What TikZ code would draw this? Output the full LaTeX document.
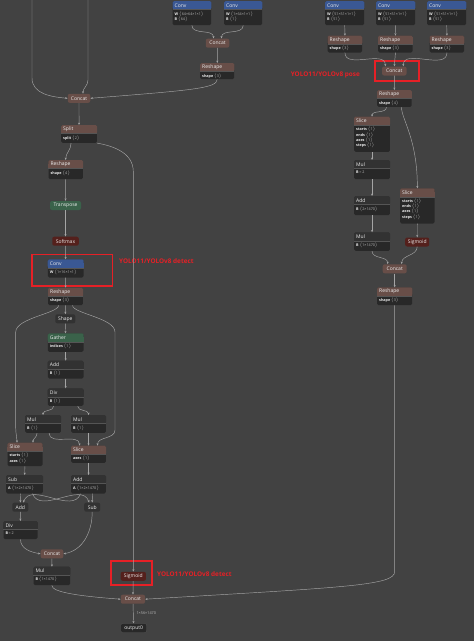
\documentclass[tikz,border=0pt]{standalone}
\usepackage{fontspec}
\setmainfont{Open Sans}
\usetikzlibrary{arrows.meta}

\definecolor{bgc}{RGB}{66,66,66}
\definecolor{bodyc}{RGB}{40,40,40}
\definecolor{plainc}{RGB}{50,50,50}
\definecolor{sepc}{RGB}{85,85,85}
\definecolor{layerc}{RGB}{58,88,148}
\definecolor{shapec}{RGB}{104,78,72}
\definecolor{actc}{RGB}{84,32,28}
\definecolor{transc}{RGB}{58,98,74}
\definecolor{edgec}{RGB}{165,165,165}
\definecolor{hlc}{RGB}{230,32,38}
\definecolor{txtc}{RGB}{236,236,236}
\definecolor{valc}{RGB}{185,185,185}

\newcommand\tv[1]{$\langle$#1$\rangle$}
\newcommand\kv[2]{\textbf{#1}\,\textcolor{valc}{#2}}
% operator box: name, x0, y0, x1, y1, header colour, title, attributes
\newcommand{\opnode}[8]{%
  \node[opbody, anchor=north west, minimum width={#4-#2}, minimum height={#5-#3}] (#1) at (#2,#3) {};
  \fill[#6, rounded corners=1.5pt] (#1.north west) rectangle ([yshift=-8.5pt]#1.north east);
  \fill[#6] ([yshift=-4pt]#1.north west) rectangle ([yshift=-8.5pt]#1.north east);
  \draw[sepc, line width=0.3pt] ([yshift=-8.5pt]#1.north west) -- ([yshift=-8.5pt]#1.north east);
  \node[optitle, anchor=west] (#1-t) at ([xshift=2pt,yshift=-4.3pt]#1.north west) {#7};
  \node[opattr, anchor=north west] (#1-a) at ([xshift=2pt,yshift=-10.2pt]#1.north west) {#8};
}

\begin{document}
\begin{tikzpicture}[x=1pt,y=-1pt]
    \tikzset{opbody/.style={fill=bodyc, rounded corners=1.5pt, inner sep=0pt, draw=none},
        optitle/.style={inner sep=0pt, text=txtc, font=\fontsize{5}{6}\selectfont},
        opattr/.style={inner sep=0pt, text=txtc, align=left, font=\fontsize{3.7}{5.2}\selectfont},
        pill/.style={fill=#1, rounded corners=2pt, minimum height=9pt, inner sep=0pt,
            text=txtc, font=\fontsize{5}{6}\selectfont},
        link/.style={draw=edgec, line width=0.45pt, -{Stealth[length=2.4pt,width=2pt]}},
        lbl/.style={inner sep=0pt, text=valc, font=\fontsize{3.8}{4.5}\selectfont},
        hlbox/.style={draw=hlc, line width=1.6pt, inner sep=0pt},
        hltext/.style={inner sep=0pt, text=hlc, font=\fontsize{6.4}{7}\selectfont\bfseries}}
    \fill[bgc] (0,0) rectangle (474,641);
    \useasboundingbox (0,0) rectangle (474,641);

    % detect head, top
    \opnode{convA}{172.5}{1}{211}{25}{layerc}{Conv}{\kv{W}{\tv{64×64×1×1}}\\\kv{B}{\tv{64}}}
    \opnode{convB}{224}{1}{262}{25}{layerc}{Conv}{\kv{W}{\tv{1×64×1×1}}\\\kv{B}{\tv{1}}}
    \node[pill=shapec, minimum width=23.5] (concatT) at (217.5,43.2) {Concat};
    \opnode{reshapeT}{200}{63}{234}{79}{shapec}{Reshape}{\kv{shape}{\tv{3}}}

    % pose head
    \opnode{convP1}{325}{1}{364}{25}{layerc}{Conv}{\kv{W}{\tv{51×51×1×1}}\\\kv{B}{\tv{51}}}
    \opnode{convP2}{376}{1}{415}{25}{layerc}{Conv}{\kv{W}{\tv{51×51×1×1}}\\\kv{B}{\tv{51}}}
    \opnode{convP3}{427}{1}{466}{25}{layerc}{Conv}{\kv{W}{\tv{51×51×1×1}}\\\kv{B}{\tv{51}}}
    \opnode{reshP1}{327.5}{35.7}{362}{52.3}{shapec}{Reshape}{\kv{shape}{\tv{3}}}
    \opnode{reshP2}{378}{35.7}{412.5}{52.3}{shapec}{Reshape}{\kv{shape}{\tv{3}}}
    \opnode{reshP3}{429.5}{35.7}{464}{52.3}{shapec}{Reshape}{\kv{shape}{\tv{3}}}
    \node[pill=shapec, minimum width=24.5] (concatP) at (394.3,71) {Concat};
    \opnode{reshP4}{377}{90}{411.5}{106.7}{shapec}{Reshape}{\kv{shape}{\tv{4}}}
    \opnode{sliceP1}{354}{116.7}{389.7}{151.7}{shapec}{Slice}{\kv{starts}{\tv{1}}\\\kv{ends}{\tv{1}}\\\kv{axes}{\tv{1}}\\\kv{steps}{\tv{1}}}
    \opnode{mulP1}{354}{160}{389.7}{179}{plainc}{Mul}{\kv{B}{= 2}}
    \opnode{addP}{354}{196}{389.7}{215}{plainc}{Add}{\kv{B}{\tv{2×1470}}}
    \opnode{mulP2}{354}{232.3}{389.7}{250.7}{plainc}{Mul}{\kv{B}{\tv{1×1470}}}
    \opnode{sliceP2}{400}{188.3}{434.3}{223.3}{shapec}{Slice}{\kv{starts}{\tv{1}}\\\kv{ends}{\tv{1}}\\\kv{axes}{\tv{1}}\\\kv{steps}{\tv{1}}}
    \node[pill=actc, minimum width=24] (sigP) at (417.2,242) {Sigmoid};
    \node[pill=shapec, minimum width=24] (concatP2) at (394.7,268.8) {Concat};
    \opnode{reshP5}{377}{287.3}{412}{305}{shapec}{Reshape}{\kv{shape}{\tv{3}}}

    % detect head, decoding
    \node[pill=shapec, minimum width=22.5] (concatL) at (79,98.3) {Concat};
    \opnode{split}{61}{125}{96.7}{142.7}{shapec}{Split}{\kv{split}{\tv{2}}}
    \opnode{reshL}{48.3}{160}{82.7}{179}{shapec}{Reshape}{\kv{shape}{\tv{4}}}
    \node[pill=transc, minimum width=31] (transp) at (65.5,205.5) {Transpose};
    \node[pill=actc, minimum width=26.5] (softm) at (65.5,241.2) {Softmax};
    \opnode{convD}{47.7}{259.3}{83.3}{277.3}{layerc}{Conv}{\kv{W}{\tv{1×16×1×1}}}
    \opnode{reshD}{48}{287.7}{82.7}{305}{shapec}{Reshape}{\kv{shape}{\tv{3}}}
    \node[pill=plainc, minimum width=20] (shapeN) at (65.3,318.8) {Shape};
    \opnode{gather}{47.7}{333.3}{83.3}{351.7}{transc}{Gather}{\kv{indices}{\tv{1}}}
    \opnode{addD1}{47.7}{360.7}{83.3}{378.3}{plainc}{Add}{\kv{B}{\tv{1}}}
    \opnode{divD1}{47.7}{388.3}{83.3}{405.7}{plainc}{Div}{\kv{B}{\tv{1}}}
    \opnode{mulD1}{25}{415}{60.7}{432.7}{plainc}{Mul}{\kv{B}{\tv{1}}}
    \opnode{mulD2}{71}{415}{105.7}{432.7}{plainc}{Mul}{\kv{B}{\tv{1}}}
    \opnode{sliceD1}{7.3}{442.7}{42.3}{466}{shapec}{Slice}{\kv{starts}{\tv{1}}\\\kv{axes}{\tv{1}}}
    \opnode{sliceD2}{71}{445.7}{105.7}{462.7}{shapec}{Slice}{\kv{axes}{\tv{1}}}
    \opnode{subD}{6}{475}{42.7}{493.3}{plainc}{Sub}{\kv{A}{\tv{1×2×1470}}}
    \opnode{addD2}{71}{475}{105.7}{493.3}{plainc}{Add}{\kv{A}{\tv{1×2×1470}}}
    \node[pill=plainc, minimum width=16] (addD3) at (20.3,507.2) {Add};
    \node[pill=plainc, minimum width=16] (subD2) at (92.2,507.2) {Sub};
    \opnode{divD2}{3.3}{521}{37.3}{539}{plainc}{Div}{\kv{B}{= 2}}
    \node[pill=shapec, minimum width=22.6] (concatD) at (52,553.8) {Concat};
    \opnode{mulD3}{33.3}{566.7}{70}{585}{plainc}{Mul}{\kv{B}{\tv{1×1470}}}
    \node[pill=actc, minimum width=25.3] (sigD) at (133.3,576.3) {Sigmoid};
    \node[pill=shapec, minimum width=24.3] (concatF) at (132.9,599.2) {Concat};
    \node[pill=bodyc, minimum width=26, draw=sepc, line width=0.3pt] (output0) at (133.7,628) {output0};

    % highlights
    \node[hlbox, minimum width=44, minimum height=20] (hlPose) at (397,71) {};
    \node[hltext, anchor=east] (lblPose) at (360,75) {YOLO11/YOLOv8 pose};
    \node[hlbox, minimum width=80.6, minimum height=31.4] (hlConv) at (72,270) {};
    \node[hltext, anchor=west] (lblConv) at (119,261.5) {YOLO11/YOLOv8 detect};
    \node[hlbox, minimum width=40.7, minimum height=24] (hlSig) at (131.35,573) {};
    \node[hltext, anchor=west] (lblSig) at (157,574.5) {YOLO11/YOLOv8 detect};

    % edges, top
    \coordinate (inA) at (32,0);
    \coordinate (inB) at (88,0);
    \draw[link] (convA.south) to[out=-90,in=90] ([xshift=-4pt]concatT.north);
    \draw[link] (convB.south) to[out=-90,in=90] ([xshift=4pt]concatT.north);
    \draw[link] (concatT) -- (reshapeT);
    \draw[link] (reshapeT.south) .. controls +(0,9) and +(100,-8) .. (concatL.east);
    \draw[link] (inA) -- ++(0,78) to[out=-90,in=175] (concatL.west);
    \draw[link] (inB) -- ++(0,80) to[out=-90,in=90] ([xshift=4pt]concatL.north);

    % edges, pose
    \draw[link] (convP1.south) -- (reshP1.north);
    \draw[link] (convP2.south) -- (reshP2.north);
    \draw[link] (convP3.south) -- (reshP3.north);
    \draw[link] (reshP1.south) to[out=-90,in=90] ([xshift=-9pt]concatP.north);
    \draw[link] (reshP2.south) -- (concatP.north);
    \draw[link] (reshP3.south) to[out=-90,in=90] ([xshift=9pt]concatP.north);
    \draw[link] (concatP) -- (reshP4);
    \draw[link] ([xshift=-8pt]reshP4.south) to[out=-90,in=90] (sliceP1.north);
    \draw[link] ([xshift=7pt]reshP4.south) .. controls +(0,12) and +(0,-50) .. (sliceP2.north);
    \draw[link] (sliceP1) -- (mulP1);
    \draw[link] (mulP1) -- (addP);
    \draw[link] (addP) -- (mulP2);
    \draw[link] (sliceP2) -- (sigP);
    \draw[link] (mulP2.south) to[out=-90,in=90] ([xshift=-7pt]concatP2.north);
    \draw[link] (sigP.south) to[out=-90,in=90] ([xshift=7pt]concatP2.north);
    \draw[link] (concatP2) -- (reshP5);
    \draw[link] (reshP5.south) -- (reshP5.south |- sigD.north) .. controls +(0,14) and +(200,-12) .. (concatF.east);

    % edges, detect
    \draw[link] (concatL) -- (split);
    \draw[link] ([xshift=-8pt]split.south) to[out=-90,in=90] (reshL.north);
    \draw[link] (split.south east) to[out=-10,in=90] ([yshift=400pt]sigD.north) -- (sigD.north);
    \draw[link] (reshL) -- (transp);
    \draw[link] (transp) -- (softm);
    \draw[link] (softm) -- (convD);
    \draw[link] (convD) -- (reshD);
    \draw[link] (reshD) -- (shapeN);
    \draw[link] ([xshift=-7pt]reshD.south) .. controls +(0,8) and +(0,-14) .. (15.7,332) -- (15.7,428) to[out=-90,in=90] ([xshift=-8pt]sliceD1.north);
    \draw[link] ([xshift=7pt]reshD.south) .. controls +(0,8) and +(0,-14) .. (115,332) -- (115,430) to[out=-90,in=90] ([xshift=9pt]sliceD2.north);
    \draw[link] (shapeN) -- (gather);
    \draw[link] (gather) -- (addD1);
    \draw[link] (addD1) -- (divD1);
    \draw[link] ([xshift=-12pt]divD1.south) to[out=-90,in=90] (mulD1.north);
    \draw[link] ([xshift=12pt]divD1.south) to[out=-90,in=90] (mulD2.north);
    \draw[link] ([xshift=-6pt]mulD1.south) to[out=-90,in=90] ([xshift=8pt]sliceD1.north);
    \draw[link] ([xshift=6pt]mulD1.south) to[out=-90,in=90] ([xshift=-9pt]sliceD2.north);
    \draw[link] (mulD2) -- (sliceD2);
    \draw[link] (sliceD1) -- (subD);
    \draw[link] (sliceD2) -- (addD2);
    \draw[link] ([xshift=-4pt]subD.south) -- (addD3.north);
    \draw[link] ([xshift=8pt]subD.south) to[out=-70,in=110] ([xshift=-3pt]subD2.north);
    \draw[link] ([xshift=-8pt]addD2.south) to[out=-110,in=70] ([xshift=3pt]addD3.north);
    \draw[link] ([xshift=4pt]addD2.south) to[out=-90,in=90] (subD2.north);
    \draw[link] (addD3) -- (divD2);
    \draw[link] (divD2.south) to[out=-90,in=170] (concatD.west);
    \draw[link] (subD2.south) to[out=-90,in=10] (concatD.east);
    \draw[link] (concatD) -- (mulD3);
    \draw[link] (mulD3.south) .. controls +(0,7) and +(-40,-3) .. (concatF.west);
    \draw[link] (sigD) -- (concatF);
    \draw[link] (concatF) -- (output0) node[midway, right=3pt, lbl] {1×56×1470};
\end{tikzpicture}
\end{document}
